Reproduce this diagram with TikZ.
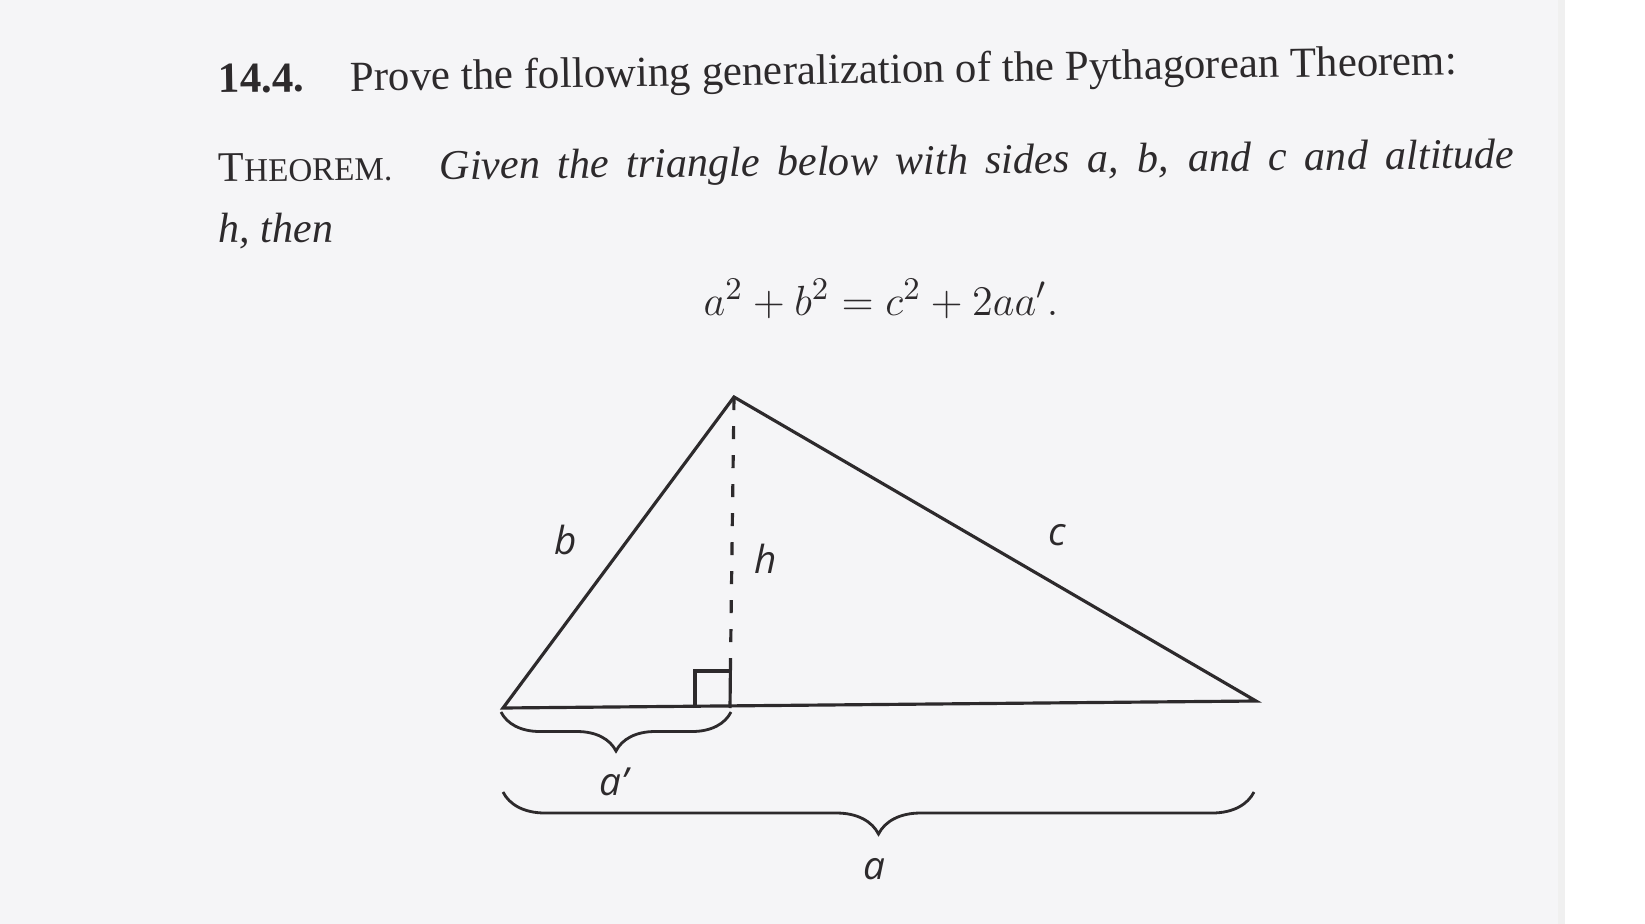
\documentclass[tikz,border=0pt]{standalone}
\usepackage{fontspec}
\setmainfont{Liberation Serif}
\newfontfamily\fonterotulo{Open Sans}
\usetikzlibrary{decorations.pathreplacing}

\definecolor{tinta}{RGB}{45,42,44}
\definecolor{papel}{RGB}{245,245,247}

\tikzset{
  lado/.style={line width=0.9pt, draw=tinta, line join=miter},
  chave/.style={decorate, decoration={brace, mirror, amplitude=#1}, line width=0.8pt, draw=tinta},
  rotulo/.style={font=\fonterotulo\itshape\fontsize{11}{13}\selectfont, text=tinta, inner sep=0pt},
  texto/.style={anchor=base west, inner sep=0pt, text=tinta, font=\fontsize{12}{14}\selectfont},
}

\begin{document}
\begin{tikzpicture}[x=0.01cm, y=-0.01cm]
  \useasboundingbox (0,0) rectangle (1645,924);
  \fill[papel] (0,0) rectangle (1565,924); % folha
  \fill[black!6] (1558,0) rectangle (1565,924); % borda da folha

  % texto
  \node[texto, rotate=0.85, font=\fontsize{12.2}{14}\selectfont] (linha1) at (218,93) {\textbf{14.4.}\hspace{0.46cm}Prove the following generalization of the Pythagorean Theorem:};
  \node[texto, rotate=0.62] (linha2) at (218,182) {\makebox[12.95cm][s]{T{\fontsize{9.4}{12}\selectfont HEOREM.}\hspace{0.3cm} \itshape Given the triangle below with sides a, b, and c and altitude}};
  \node[texto, rotate=0.6] (linha3) at (218,243) {\itshape h, then};
  \node[texto, anchor=base, font=\fontsize{12.5}{15}\selectfont] (eq) at (881,315) {$a^2+b^2=c^2+2aa'.$};

  % vertices do triangulo
  \coordinate (A) at (503,708); % vertice esquerdo
  \coordinate (B) at (1256,701); % vertice direito
  \coordinate (C) at (734,397); % vertice de cima
  \coordinate (H) at (730,708); % pe da altura
  \coordinate (Hd) at (730.5,662); % fim do tracejado

  \draw[lado] (A) -- (B) -- (C) -- cycle; % triangulo
  \draw[lado, dash pattern=on 0.13cm off 0.16cm] (C) -- (Hd); % altura
  \draw[lado] (Hd) -- (H); % altura (parte cheia)
  \draw[lado] (H) ++(-35,0) |- (730,671); % angulo reto

  % chaves
  \coordinate (p1) at (501,712);
  \coordinate (p2) at (731,712);
  \coordinate (q1) at (503,792);
  \coordinate (q2) at (1254,792);
  \draw[chave=0.39cm] (p1) -- (p2); % a'
  \draw[chave=0.42cm] (q1) -- (q2); % a

  % rotulos
  \node[rotulo] (lb) at (566,540) {b};
  \node[rotulo] (lh) at (766,559) {h};
  \node[rotulo] (lc) at (1057,535) {c};
  \node[rotulo] (la1) at (614,782) {a’};
  \node[rotulo] (la) at (874,869) {a};
\end{tikzpicture}
\end{document}
